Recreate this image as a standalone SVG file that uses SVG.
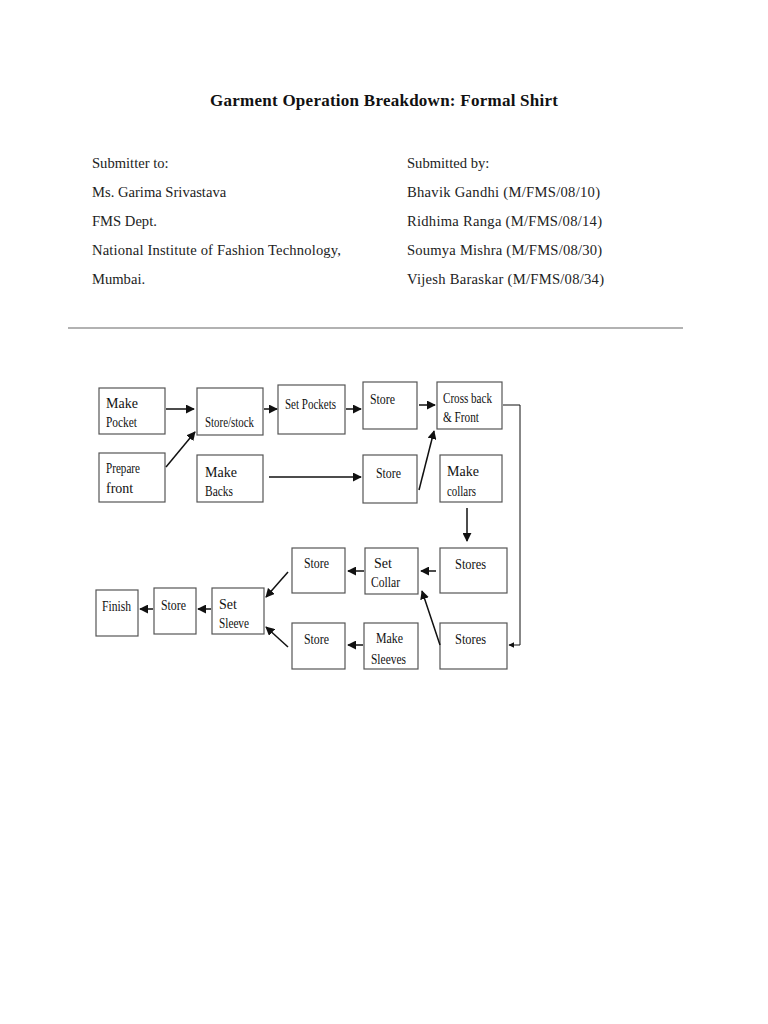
<svg xmlns="http://www.w3.org/2000/svg" width="768" height="1024" viewBox="0 0 768 1024">
<style>
.h{font-family:"Liberation Serif",serif;font-size:14.6px;fill:#222}
.t{font-family:"Liberation Serif",serif;font-size:14px;fill:#111}
rect{fill:#fff;stroke:#555;stroke-width:1.2}
.c line,.c polyline{stroke:#111;stroke-width:1.5;fill:none}
</style>
<defs><marker id="a" viewBox="0 0 10 10" refX="9" refY="5" markerWidth="6" markerHeight="6" orient="auto"><path d="M0,0L10,5L0,10z" fill="#111"/></marker></defs>
<rect x="0" y="0" width="768" height="1024" style="stroke:none"/>
<text x="384" y="106" text-anchor="middle" textLength="348" style="font-family:'Liberation Serif',serif;font-size:17px;font-weight:bold;fill:#111">Garment Operation Breakdown: Formal Shirt</text>
<text class="h" x="92" y="168">Submitter to:</text>
<text class="h" x="92" y="197">Ms. Garima Srivastava</text>
<text class="h" x="92" y="226">FMS Dept.</text>
<text class="h" x="92" y="255" textLength="249">National Institute of Fashion Technology,</text>
<text class="h" x="92" y="284">Mumbai.</text>
<text class="h" x="407" y="168">Submitted by:</text>
<text class="h" x="407" y="197" textLength="193">Bhavik Gandhi (M/FMS/08/10)</text>
<text class="h" x="407" y="226" textLength="195">Ridhima Ranga (M/FMS/08/14)</text>
<text class="h" x="407" y="255" textLength="195">Soumya Mishra (M/FMS/08/30)</text>
<text class="h" x="407" y="284" textLength="197">Vijesh Baraskar (M/FMS/08/34)</text>
<line x1="68" y1="328" x2="683" y2="328" stroke="#999" stroke-width="1.5"/>
<g id="makePocket"><rect x="99" y="388" width="66" height="46"/><text class="t" x="106" y="408">Make</text><text class="t" x="106" y="427" textLength="31" lengthAdjust="spacingAndGlyphs">Pocket</text></g>
<g id="storeStock"><rect x="197" y="388" width="66" height="47"/><text class="t" x="205" y="427" textLength="49" lengthAdjust="spacingAndGlyphs">Store/stock</text></g>
<g id="setPockets"><rect x="278" y="385" width="67" height="49"/><text class="t" x="285" y="409" textLength="51" lengthAdjust="spacingAndGlyphs">Set Pockets</text></g>
<g id="store1"><rect x="363" y="382" width="54" height="47"/><text class="t" x="370" y="404" textLength="25" lengthAdjust="spacingAndGlyphs">Store</text></g>
<g id="crossBack"><rect x="437" y="382" width="65" height="47"/><text class="t" x="443" y="403" textLength="49" lengthAdjust="spacingAndGlyphs">Cross back</text><text class="t" x="443" y="422" textLength="36" lengthAdjust="spacingAndGlyphs">&amp; Front</text></g>
<g id="prepareFront"><rect x="99" y="453" width="66" height="49"/><text class="t" x="106" y="473" textLength="34" lengthAdjust="spacingAndGlyphs">Prepare</text><text class="t" x="106" y="493">front</text></g>
<g id="makeBacks"><rect x="197" y="455" width="66" height="47"/><text class="t" x="205" y="477">Make</text><text class="t" x="205" y="496" textLength="28" lengthAdjust="spacingAndGlyphs">Backs</text></g>
<g id="store2"><rect x="363" y="455" width="54" height="48"/><text class="t" x="376" y="478" textLength="25" lengthAdjust="spacingAndGlyphs">Store</text></g>
<g id="makeCollars"><rect x="440" y="455" width="62" height="47"/><text class="t" x="447" y="476">Make</text><text class="t" x="447" y="496" textLength="29" lengthAdjust="spacingAndGlyphs">collars</text></g>
<g id="stores1"><rect x="440" y="548" width="67" height="45"/><text class="t" x="455" y="569" textLength="31" lengthAdjust="spacingAndGlyphs">Stores</text></g>
<g id="setCollar"><rect x="365" y="548" width="53" height="46"/><text class="t" x="374" y="568">Set</text><text class="t" x="371" y="587" textLength="29" lengthAdjust="spacingAndGlyphs">Collar</text></g>
<g id="store3"><rect x="292" y="548" width="53" height="45"/><text class="t" x="304" y="568" textLength="25" lengthAdjust="spacingAndGlyphs">Store</text></g>
<g id="setSleeve"><rect x="212" y="588" width="52" height="46"/><text class="t" x="219" y="609">Set</text><text class="t" x="219" y="628" textLength="30" lengthAdjust="spacingAndGlyphs">Sleeve</text></g>
<g id="store4"><rect x="154" y="588" width="42" height="46"/><text class="t" x="161" y="610" textLength="25" lengthAdjust="spacingAndGlyphs">Store</text></g>
<g id="finish"><rect x="96" y="590" width="42" height="46"/><text class="t" x="102" y="611" textLength="29" lengthAdjust="spacingAndGlyphs">Finish</text></g>
<g id="store5"><rect x="292" y="623" width="53" height="46"/><text class="t" x="304" y="644" textLength="25" lengthAdjust="spacingAndGlyphs">Store</text></g>
<g id="makeSleeves"><rect x="364" y="623" width="54" height="46"/><text class="t" x="376" y="643" textLength="27" lengthAdjust="spacingAndGlyphs">Make</text><text class="t" x="371" y="664" textLength="35" lengthAdjust="spacingAndGlyphs">Sleeves</text></g>
<g id="stores2"><rect x="440" y="623" width="67" height="46"/><text class="t" x="455" y="644" textLength="31" lengthAdjust="spacingAndGlyphs">Stores</text></g>
<g class="c">
<line x1="166" y1="409" x2="194" y2="409" marker-end="url(#a)"/>
<line x1="166" y1="467" x2="195" y2="432" marker-end="url(#a)"/>
<line x1="264" y1="409" x2="277" y2="409" marker-end="url(#a)"/>
<line x1="346" y1="409" x2="361" y2="409" marker-end="url(#a)"/>
<line x1="419" y1="405" x2="435" y2="405" marker-end="url(#a)"/>
<line x1="269" y1="477" x2="361" y2="477" marker-end="url(#a)"/>
<line x1="419" y1="490" x2="434" y2="431" marker-end="url(#a)"/>
<polyline points="503,405 520,405 520,645 509,645" marker-end="url(#a)" style="stroke-width:1"/>
<line x1="467" y1="508" x2="467" y2="541" marker-end="url(#a)"/>
<line x1="436" y1="571" x2="421" y2="571" marker-end="url(#a)"/>
<line x1="364" y1="571" x2="348" y2="571" marker-end="url(#a)"/>
<line x1="288" y1="572" x2="266" y2="597" marker-end="url(#a)"/>
<line x1="288" y1="647" x2="266" y2="627" marker-end="url(#a)"/>
<line x1="363" y1="645" x2="348" y2="645" marker-end="url(#a)"/>
<line x1="440" y1="645" x2="422" y2="591" marker-end="url(#a)"/>
<line x1="211" y1="609" x2="198" y2="609" marker-end="url(#a)"/>
<line x1="153" y1="609" x2="140" y2="609" marker-end="url(#a)"/>
</g>
</svg>
